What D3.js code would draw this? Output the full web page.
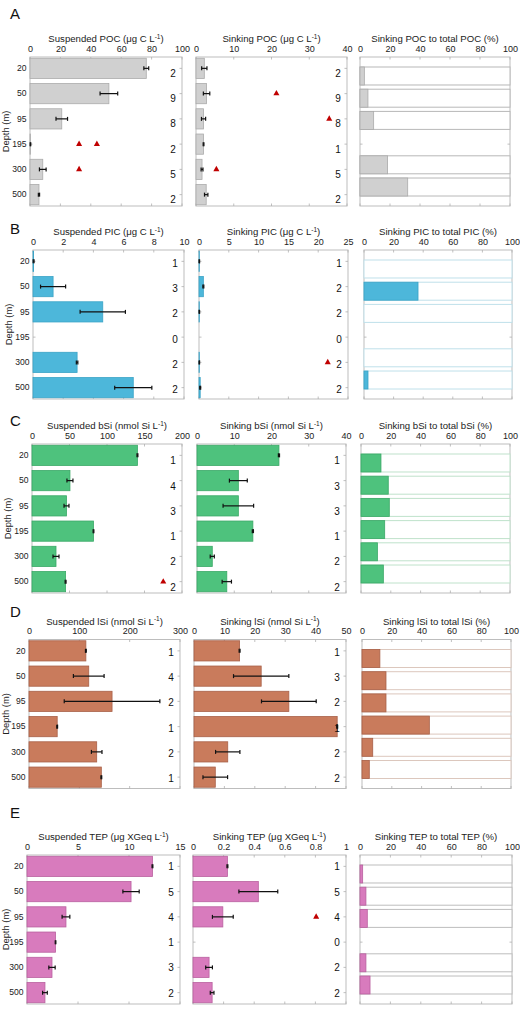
<!DOCTYPE html>
<html><head><meta charset="utf-8">
<script src="https://cdn.jsdelivr.net/npm/d3@7"></script>
<style>body{margin:0;background:#fff}svg{display:block;font-family:"Liberation Sans",Arial,Helvetica,sans-serif}</style>
</head><body><svg id="c" width="520" height="1010"></svg>
<script>
// ---------------- DATA ----------------
const depths = ["20", "50", "95", "195", "300", "500"];

// A: POC
const pocSusp = [76.5, 51.9, 20.9, 0.3, 8.4, 5.9];
const pocSuspErr = [1.6, 5.8, 3.8, 0.2, 2.2, 0.4];
const pocSuspN = [2, 9, 8, 2, 5, 2];
const pocSuspOut = [["195", 32.3], ["195", 44], ["300", 32.3]];
const pocSusTicks = [0, 20, 40, 60, 80, 100];
const pocSink = [2.2, 2.8, 2.0, 2.0, 1.6, 2.7];
const pocSinkErr = [0.7, 0.85, 0.55, 0.1, 0.25, 0.45];
const pocSinkN = [2, 9, 8, 1, 5, 2];
const pocSinkOut = [["50", 21.3], ["95", 35.3], ["300", 5.4]];
const pocSinkTicks = [0, 10, 20, 30, 40];
const pocPct = [2.9, 5.3, 9.1, null, 18.4, 31.8];

// B: PIC
const picSusp = [0.04, 1.33, 4.62, null, 2.92, 6.64];
const picSuspErr = [0.03, 0.83, 1.5, null, 0.05, 1.23];
const picSuspN = [1, 3, 2, 0, 2, 2];
const picSuspOut = [];
const picSusTicks = [0, 2, 4, 6, 8, 10];
const picSink = [0.05, 0.73, 0.05, null, 0.05, 0.2];
const picSinkErr = [0.05, 0.08, 0.05, null, 0.05, 0.08];
const picSinkN = [1, 2, 2, 0, 2, 2];
const picSinkOut = [["300", 21.6]];
const picSinkTicks = [0, 5, 10, 15, 20, 25];
const picPct = [0, 36.5, 0, null, 0, 2.7];

// C: bSi
const bsiSusp = [140.6, 50.6, 46.0, 82.0, 32.0, 44.8];
const bsiSuspErr = [0.6, 4.0, 3.3, 0.5, 4.0, 0.6];
const bsiSuspN = [1, 4, 3, 1, 2, 2];
const bsiSuspOut = [["500", 175]];
const bsiSusTicks = [0, 50, 100, 150, 200];
const bsiSink = [22.0, 11.1, 11.1, 15.0, 4.1, 8.0];
const bsiSinkErr = [0.15, 2.4, 4.1, 0.15, 0.55, 1.25];
const bsiSinkN = [1, 3, 3, 1, 2, 2];
const bsiSinkOut = [];
const bsiSinkTicks = [0, 10, 20, 30, 40];
const bsiPct = [13.4, 18.3, 19.0, 15.9, 11.0, 15.0];

// D: lSi
const lsiSusp = [113, 118.7, 165, 56, 134.5, 143.7];
const lsiSuspErr = [0.8, 30.5, 95, 0.8, 10.5, 0.8];
const lsiSuspN = [1, 4, 2, 1, 2, 1];
const lsiSuspOut = [];
const lsiSusTicks = [0, 100, 200, 300];
const lsiSink = [15.0, 22.1, 31.2, 47.1, 11.1, 7.0];
const lsiSinkErr = [0.15, 9.1, 9.0, 0.15, 4.0, 4.05];
const lsiSinkN = [1, 3, 2, 1, 2, 2];
const lsiSinkOut = [];
const lsiSinkTicks = [0, 10, 20, 30, 40, 50];
const lsiPct = [12.0, 16.1, 16.1, 45.2, 7.2, 4.9];

// E: TEP
const tepSusp = [12.3, 10.2, 3.82, 2.8, 2.45, 1.76];
const tepSuspErr = [0.04, 0.8, 0.38, 0.03, 0.31, 0.23];
const tepSuspN = [1, 5, 4, 1, 3, 2];
const tepSuspOut = [];
const tepSusTicks = [0, 5, 10, 15];
const tepSink = [0.225, 0.427, 0.195, null, 0.105, 0.125];
const tepSinkErr = [0.003, 0.127, 0.068, null, 0.022, 0.012];
const tepSinkN = [1, 5, 4, 0, 2, 2];
const tepSinkOut = [["95", 0.805]];
const tepSinkTicks = [0, 0.2, 0.4, 0.6, 0.8, 1];
const tepPct = [1.75, 3.9, 4.8, null, 3.9, 6.6];

const pctTicks = [0, 20, 40, 60, 80, 100];

// ---------------- LAYOUT ----------------
const rows = [
  { letter: "A", letterY: 19, top: 57, countDy: 5, x: [[30, 182], [196, 347], [360, 510]],
    fill: "#d0d0d0", stroke: "#ababab", frame: "#b8b8b8",
    panels: [
      { title: "Suspended POC (μg C L^{-1})", ticks: pocSusTicks, vals: pocSusp, err: pocSuspErr, n: pocSuspN, out: pocSuspOut },
      { title: "Sinking POC (μg C L^{-1})", ticks: pocSinkTicks, vals: pocSink, err: pocSinkErr, n: pocSinkN, out: pocSinkOut },
      { title: "Sinking POC to total POC (%)", ticks: pctTicks, pct: pocPct }] },
  { letter: "B", letterY: 234, top: 250, countDy: 2, x: [[33, 184], [199, 348], [364, 512]],
    fill: "#4db7da", stroke: "#3aa3c6", frame: "#bfe0ea",
    panels: [
      { title: "Suspended PIC (μg C L^{-1})", ticks: picSusTicks, vals: picSusp, err: picSuspErr, n: picSuspN, out: picSuspOut },
      { title: "Sinking PIC (μg C L^{-1})", ticks: picSinkTicks, vals: picSink, err: picSinkErr, n: picSinkN, out: picSinkOut },
      { title: "Sinking PIC to total PIC (%)", ticks: pctTicks, pct: picPct }] },
  { letter: "C", letterY: 426, top: 444, countDy: 5.5, x: [[32, 182], [197, 346], [361, 510]],
    fill: "#4ec27d", stroke: "#3aa866", frame: "#bfe2cb",
    panels: [
      { title: "Suspended bSi (nmol Si L^{-1})", ticks: bsiSusTicks, vals: bsiSusp, err: bsiSuspErr, n: bsiSuspN, out: bsiSuspOut },
      { title: "Sinking bSi (nmol Si L^{-1})", ticks: bsiSinkTicks, vals: bsiSink, err: bsiSinkErr, n: bsiSinkN, out: bsiSinkOut },
      { title: "Sinking bSi to total bSi (%)", ticks: pctTicks, pct: bsiPct }] },
  { letter: "D", letterY: 617, top: 639.5, countDy: 1.5, x: [[29, 180], [194, 346], [362, 511]],
    fill: "#c97b5c", stroke: "#a86048", frame: "#dcc7bd",
    panels: [
      { title: "Suspended lSi (nmol Si L^{-1})", ticks: lsiSusTicks, vals: lsiSusp, err: lsiSuspErr, n: lsiSuspN, out: lsiSuspOut },
      { title: "Sinking lSi (nmol Si L^{-1})", ticks: lsiSinkTicks, vals: lsiSink, err: lsiSinkErr, n: lsiSinkN, out: lsiSinkOut },
      { title: "Sinking lSi to total lSi (%)", ticks: pctTicks, pct: lsiPct }] },
  { letter: "E", letterY: 818, top: 855, countDy: 0.5, x: [[27, 180], [193, 346], [360, 512]],
    fill: "#d87bbd", stroke: "#b9609f", frame: "#bdbdbd",
    panels: [
      { title: "Suspended TEP (μg XGeq L^{-1})", ticks: tepSusTicks, vals: tepSusp, err: tepSuspErr, n: tepSuspN, out: tepSuspOut },
      { title: "Sinking TEP (μg XGeq L^{-1})", ticks: tepSinkTicks, vals: tepSink, err: tepSinkErr, n: tepSinkN, out: tepSinkOut },
      { title: "Sinking TEP to total TEP (%)", ticks: pctTicks, pct: tepPct }] }
];

const H = 149;
const svg = d3.select("#c");
const fmt = d3.format("~g");

function addTitle(g, str, cx, y) {
  const t = g.append("text").attr("x", cx).attr("y", y).attr("text-anchor", "middle")
    .attr("font-size", 9.6).attr("fill", "#222");
  const parts = str.split(/\^\{(.*?)\}/);
  parts.forEach((p, i) => {
    if (i % 2 === 0) {
      const ts = t.append("tspan").text(p);
      if (i > 0) ts.attr("dy", 3.5);
    } else {
      t.append("tspan").attr("dy", -3.5).attr("font-size", 6.5).text(p);
    }
  });
}

rows.forEach(row => {
  const g = svg.append("g");
  const top = row.top, bot = top + H;
  g.append("text").attr("x", 10).attr("y", row.letterY).attr("font-size", 15).attr("fill", "#111").text(row.letter);
  g.append("text").attr("transform", `translate(${Math.max(9, row.x[0][0] - 21)},${top + H / 2}) rotate(-90)`)
    .attr("text-anchor", "middle").attr("font-size", 9.4).attr("fill", "#222").text("Depth (m)");

  const yb = d3.scaleBand().domain(depths).range([top, bot]).paddingInner(0.2).paddingOuter(0.05);
  const yp = d3.scaleBand().domain(depths).range([top + 10, top + 139]).paddingInner(0.19).paddingOuter(0);

  row.panels.forEach((p, i) => {
    const [x0, x1] = row.x[i];
    const x = d3.scaleLinear().domain([0, p.ticks[p.ticks.length - 1]]).range([x0, x1]);
    const pg = g.append("g");

    // box
    pg.append("rect").attr("x", x0).attr("y", top).attr("width", x1 - x0).attr("height", H)
      .attr("fill", "#fff").attr("stroke", "#bdbdbd").attr("stroke-width", 1);

    // top axis labels
    const ax = d3.axisTop(x).tickValues(p.ticks).tickFormat(fmt).tickSize(0).tickPadding(5.5);
    const axg = pg.append("g").attr("transform", `translate(0,${top})`).call(ax);
    axg.select(".domain").remove();
    axg.selectAll("text").attr("font-size", 9).attr("fill", "#222").attr("font-family", null);

    // inward ticks
    const tk = pg.append("g").attr("stroke", "#b0b0b0").attr("stroke-width", 0.8);
    p.ticks.forEach(v => {
      tk.append("line").attr("x1", x(v)).attr("x2", x(v)).attr("y1", top).attr("y2", top + 2.5);
      tk.append("line").attr("x1", x(v)).attr("x2", x(v)).attr("y1", bot).attr("y2", bot - 2.5);
    });
    depths.forEach(d => {
      const cy = yb(d) + yb.bandwidth() / 2;
      tk.append("line").attr("x1", x0).attr("x2", x0 + 2.5).attr("y1", cy).attr("y2", cy);
      tk.append("line").attr("x1", x1).attr("x2", x1 - 2.5).attr("y1", cy).attr("y2", cy);
    });

    addTitle(pg, p.title, (x0 + x1) / 2, top - 15);

    if (i === 0) {
      const ay = d3.axisLeft(yb).tickSize(0).tickPadding(3.5);
      const ayg = pg.append("g").attr("transform", `translate(${x0},0)`).call(ay);
      ayg.select(".domain").remove();
      ayg.selectAll("text").attr("font-size", 8.6).attr("fill", "#222").attr("font-family", null);
    }

    if (p.pct) {
      depths.forEach((d, j) => {
        const v = p.pct[j];
        if (v === null) return;
        pg.append("rect").attr("x", x(0)).attr("y", yp(d)).attr("width", x(100) - x(0)).attr("height", yp.bandwidth())
          .attr("fill", "#fff").attr("stroke", row.frame).attr("stroke-width", 1);
        if (v > 0) {
          pg.append("rect").attr("x", x(0)).attr("y", yp(d)).attr("width", x(v) - x(0)).attr("height", yp.bandwidth())
            .attr("fill", row.fill).attr("stroke", row.stroke).attr("stroke-width", 0.8);
        }
      });
    } else {
      depths.forEach((d, j) => {
        const v = p.vals[j];
        const cy = yb(d) + yb.bandwidth() / 2;
        if (v !== null) {
          pg.append("rect").attr("x", x(0)).attr("y", yb(d)).attr("width", Math.max(0, x(v) - x(0))).attr("height", yb.bandwidth())
            .attr("fill", row.fill).attr("stroke", row.stroke).attr("stroke-width", 0.8);
          const e = p.err[j];
          const lo = x(Math.max(0, v - e)), hi = x(v + e);
          const eg = pg.append("g").attr("stroke", "#111").attr("stroke-width", 1.2);
          eg.append("line").attr("x1", lo).attr("x2", hi).attr("y1", cy).attr("y2", cy);
          eg.append("line").attr("x1", lo).attr("x2", lo).attr("y1", cy - 2).attr("y2", cy + 2);
          eg.append("line").attr("x1", hi).attr("x2", hi).attr("y1", cy - 2).attr("y2", cy + 2);
        }
        pg.append("text").attr("x", x1 - 9).attr("y", cy + row.countDy).attr("dy", "0.35em")
          .attr("text-anchor", "middle").attr("font-size", 10).attr("fill", "#111").text(p.n[j]);
      });
      p.out.forEach(([d, v]) => {
        const cy = yb(d) + yb.bandwidth() / 2;
        pg.append("path").attr("d", d3.symbol(d3.symbolTriangle, 16)())
          .attr("transform", `translate(${x(v)},${cy})`).attr("fill", "#c00000");
      });
    }
  });
});
</script></body></html>
